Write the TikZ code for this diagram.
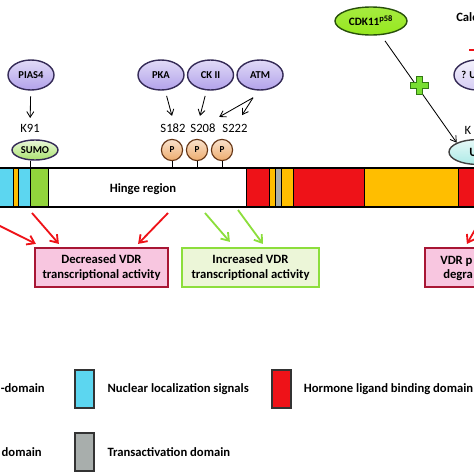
\documentclass[tikz,border=0pt]{standalone}
\usepackage{fontspec}
\setmainfont{Carlito}
\usetikzlibrary{arrows.meta,positioning,shapes.geometric,calc}

\definecolor{vdrred}{RGB}{238,18,24}
\definecolor{vdrorange}{RGB}{255,190,0}
\definecolor{vdrcyan}{RGB}{92,214,240}
\definecolor{vdrgreen}{RGB}{146,212,60}
\definecolor{vdrgray}{RGB}{168,174,172}
\definecolor{kinase}{RGB}{178,162,234}
\definecolor{kinaseline}{RGB}{52,42,86}
\definecolor{boxpink}{RGB}{248,198,224}
\definecolor{boxred}{RGB}{168,22,52}
\definecolor{boxlime}{RGB}{236,246,216}
\definecolor{limeline}{RGB}{140,222,60}
\definecolor{cdkgreen}{RGB}{150,232,30}
\definecolor{cdkline}{RGB}{40,80,10}
\definecolor{pball}{RGB}{238,172,110}
\definecolor{pballline}{RGB}{100,52,20}
\definecolor{sumogreen}{RGB}{170,226,110}
\definecolor{ubcyan}{RGB}{172,234,230}
\definecolor{plusgreen}{RGB}{120,222,50}
\definecolor{plusline}{RGB}{50,120,20}

\begin{document}
\begin{tikzpicture}[x=0.025cm,y=-0.025cm,
    kinase/.style={ellipse,draw=kinaseline,line width=1pt,top color=kinase!40!white,
      bottom color=kinase,minimum width=1.15cm,minimum height=0.75cm,inner sep=0pt,
      font=\bfseries\fontsize{7.5}{8}\selectfont},
    sumo/.style={kinase,top color=sumogreen!25!white,bottom color=sumogreen,
      minimum width=1.15cm,minimum height=0.5cm},
    ubq/.style={kinase,draw=black!75,top color=ubcyan!30!white,bottom color=ubcyan,
      minimum width=1.4cm,minimum height=0.62cm},
    cdk/.style={kinase,draw=cdkline,top color=cdkgreen!85!white,bottom color=cdkgreen,
      minimum width=1.8cm,minimum height=0.7cm},
    sitelabel/.style={inner sep=1pt,font=\fontsize{9}{10}\selectfont},
    pball/.style={circle,draw=pballline,line width=0.8pt,top color=pball!35!white,
      bottom color=pball,minimum size=0.53cm,inner sep=0pt,
      font=\bfseries\fontsize{6.5}{7}\selectfont},
    effect/.style={draw,line width=1.4pt,minimum width=3.33cm,minimum height=0.98cm,
      align=center,inner sep=1pt,font=\bfseries\fontsize{9}{10.7}\selectfont},
    swatch/.style={draw=black!80,line width=0.8pt,minimum width=0.475cm,
      minimum height=0.95cm,inner sep=0pt},
    legtext/.style={inner sep=0pt,font=\bfseries\fontsize{9}{10}\selectfont},
    thinarrow/.style={-{Straight Barb[length=4pt,width=5pt]},line width=0.6pt},
    redarrow/.style={-{Straight Barb[length=5pt,width=7pt]},line width=1.3pt,vdrred},
    limearrow/.style={-{Straight Barb[length=5pt,width=7pt]},line width=1.3pt,limeline}]

  \clip (0,0) rectangle (474,474);

  % VDR protein bar
  \foreach \a/\b/\c in {-5/13/vdrcyan,13/18/vdrorange,18/30/vdrcyan,30/48/vdrgreen,
      48/246/white,246/269/vdrred,269/275/vdrorange,275/281/vdrgray,281/293/vdrorange,
      293/364/vdrred,364/458/vdrorange,458/480/vdrred}
    \filldraw[fill=\c,draw=black,line width=0.6pt] (\a,168) rectangle (\b,207);
  \draw[line width=1.3pt] (-5,168) -- (480,168) (-5,207) -- (480,207);
  \node[legtext] (hinge) at (143,189) {Hinge region};
  \coordinate (bartop) at (0,168);

  % SUMOylation
  \node[kinase] (pias) at (31,75) {PIAS4};
  \node[sitelabel] (k91) at (30,128) {K91};
  \node[sumo] (sumo) at (35,150) {SUMO};
  \draw[thinarrow,shorten <=4pt,shorten >=3pt] (pias) -- (k91);
  \draw[line width=0.6pt] (sumo.south -| k91) -- (k91 |- bartop);

  % phosphorylation
  \node[kinase] (pka) at (161,75) {PKA};
  \node[kinase,right=1.5pt of pka] (ckii) {CK II};
  \node[kinase,right=1.5pt of ckii] (atm) {ATM};
  \node[sitelabel] (s182) at (173,128) {S182};
  \node[sitelabel] (s208) at (203,128) {S208};
  \node[sitelabel] (s222) at (235,128) {S222};
  \foreach \n/\x in {p1/172,p2/197,p3/222}{
    \node[pball] (\n) at (\x,150) {P};
    \draw[line width=0.6pt] (\n.south) -- (\n |- bartop);
  }
  \coordinate (atmfoot) at ($(atm.south)+(-7,7)$);
  \draw[thinarrow,shorten <=4pt] (pka) -- ($(s182.north)+(-1,-6)$);
  \draw[thinarrow,shorten <=4pt] (ckii) -- ($(s208.north)+(-3,-6)$);
  \draw[thinarrow] (atmfoot) -- ($(s208.north east)+(2,-5)$);
  \draw[thinarrow] (atmfoot) -- ($(s222.north)+(7,-7)$);

  % CDK11 and degradation
  \node[cdk,font=\bfseries\fontsize{8}{9}\selectfont] (cdk) at (371,21) {CDK11\textsuperscript{p58}};
  \node[ubq] (ub) at (477,152) {};
  \node[legtext,anchor=west] (ubtext) at (469,152) {U};
  \node[sitelabel,anchor=west] (kub) at (463,130) {K};
  \draw[thinarrow,shorten <=5pt] (cdk) -- (ub.north west);
  \draw[fill=plusgreen,draw=plusline,line width=0.6pt]
    (416,76) -- (422,76) -- (422,82) -- (428,82) -- (428,88) -- (422,88) -- (422,94)
    -- (416,94) -- (416,88) -- (410,88) -- (410,82) -- (416,82) -- cycle;
  \node[legtext,anchor=west] (calc) at (456,17) {Calc};
  \coordinate (inhib) at (469,50);
  \draw[vdrred,line width=1.2pt] (inhib) -- ++(12,0);
  \node[kinase,top color=kinase!15!white,bottom color=kinase!55!white] (ubl) at (477,75) {};
  \node[legtext,anchor=west,font=\bfseries\fontsize{7.5}{8}\selectfont] (ubltext) at (461,75) {? U};

  % effects
  \node[effect,draw=boxred,fill=boxpink] (dec) at (101.5,267.5)
    {Decreased VDR\\transcriptional activity};
  \node[effect,draw=limeline,fill=boxlime,minimum width=3.43cm] (inc) at (250.5,267.5)
    {Increased VDR\\transcriptional activity};
  \node[effect,draw=boxred,fill=boxpink] (deg) at (491.5,267.5) {};
  \node[legtext,anchor=west] (degtop) at (440,261) {VDR p};
  \node[legtext,anchor=west] (degbot) at (443,275) {degra};

  \coordinate (r1) at (-6,223);
  \coordinate (r2) at (32,213);
  \coordinate (r3) at (168,213);
  \coordinate (r4) at (484,214);
  \coordinate (g1) at (205,213);
  \coordinate (g2) at (238,210);
  \draw[redarrow] (r1) -- ($(dec.north west)+(2,-3)$);
  \draw[redarrow] (r2) -- ($(dec.north west)+(25,-3)$);
  \draw[redarrow] (r3) -- ($(dec.north east)+(-31,-3)$);
  \draw[redarrow] (r4) -- ($(deg.north west)+(43,-3)$);
  \draw[limearrow] (g1) -- ($(inc.north west)+(49,-5)$);
  \draw[limearrow] (g2) -- ($(inc.north west)+(82,-3)$);

  % legend
  \node[legtext,anchor=west] (dbdtext) at (0.5,388) {-domain};
  \node[legtext,anchor=east] (xdomtext) at (42,452) {domain};
  \node[swatch,fill=vdrcyan] (nlsbox) at (84.5,389) {};
  \node[legtext,right=9pt of nlsbox] (nlstext) {Nuclear localization signals};
  \node[swatch,fill=vdrgray] (tadbox) at (84.5,452) {};
  \node[legtext,right=9pt of tadbox] (tadtext) {Transactivation domain};
  \node[swatch,fill=vdrred] (lbdbox) at (281.5,389) {};
  \node[legtext,right=8.5pt of lbdbox] (lbdtext) {Hormone ligand binding domain};
\end{tikzpicture}
\end{document}
